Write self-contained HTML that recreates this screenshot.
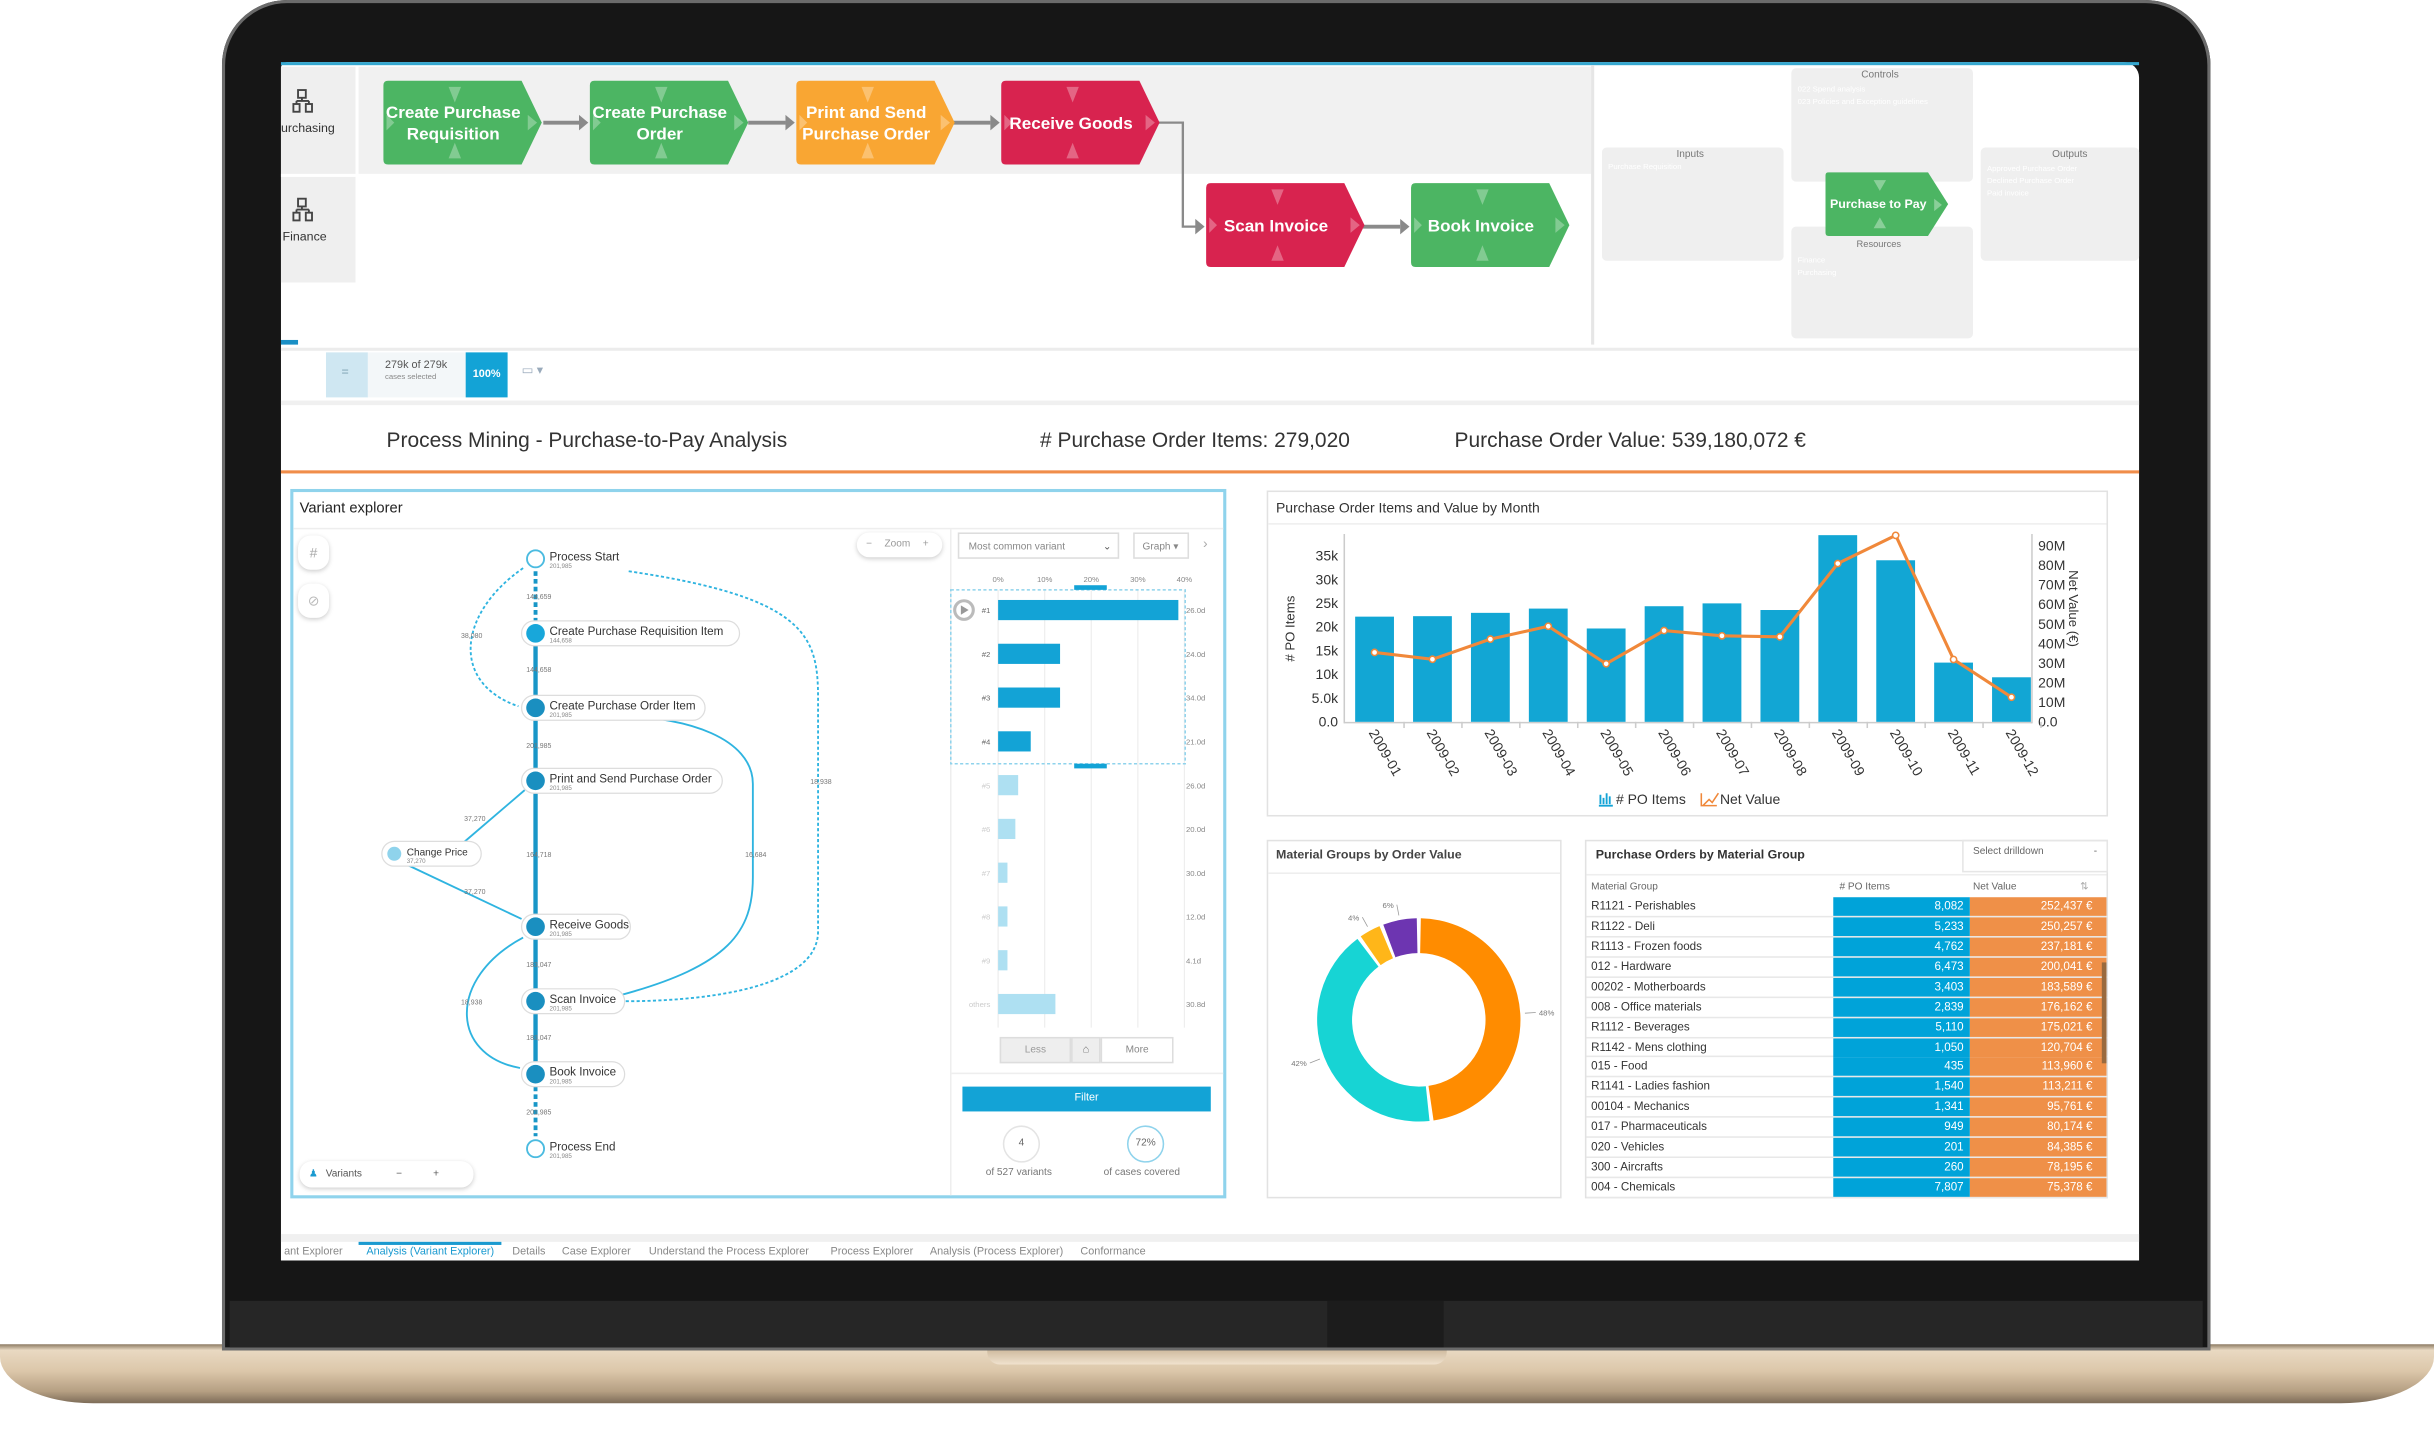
<!DOCTYPE html>
<html><head><meta charset="utf-8">
<style>
html,body{margin:0;padding:0;background:#fff;width:2434px;height:1429px;overflow:hidden;font-family:"Liberation Sans",sans-serif;}
#stage{position:absolute;left:0;top:0;width:1568px;height:921px;transform:scale(1.55230);transform-origin:0 0;}
.abs{position:absolute;}
.t{position:absolute;white-space:nowrap;color:#333;}
.panel{position:absolute;background:#fff;border:1px solid #e2e2e2;box-sizing:border-box;}
.ptitle{position:absolute;left:6px;top:6px;font-size:9px;color:#333;font-weight:bold;letter-spacing:0.2px;}
.row{position:absolute;left:0;width:336px;height:12.93px;font-size:7.5px;line-height:12.93px;border-bottom:1px solid #e8e8e8;box-sizing:border-box;}
.gbox{position:absolute;background:#efefef;border-radius:3px;}
.tab{position:absolute;top:803px;font-size:7px;color:#888;white-space:nowrap;}
</style></head>
<body>
<div id="stage">
  <!-- base -->
  <div class="abs" style="left:0;top:866px;width:1568px;height:38px;background:linear-gradient(#8c7a63 0,#e9d9c2 10%,#dcc7aa 45%,#b59f82 80%,#7d6c58 100%);border-radius:0 0 60px 60px / 0 0 30px 30px;"></div>
  <div class="abs" style="left:636px;top:869px;width:296px;height:10px;background:linear-gradient(#cdb89c,#f0e2ce);border-radius:0 0 8px 8px;"></div>
  <!-- bezel -->
  <div class="abs" style="left:143px;top:0;width:1281px;height:870px;background:#161616;border-radius:42px 42px 0 0;box-shadow:inset 0 0 0 2px #6b6b6b;"></div>
  <div class="abs" style="left:148px;top:838px;width:1271px;height:30px;background:#262626;"></div>
  <div class="abs" style="left:855px;top:838px;width:75px;height:30px;background:#1c1c1c;"></div>
  <!-- screen -->
  <div class="abs" style="left:181px;top:40px;width:1197px;height:772px;background:#fff;overflow:hidden;border-radius:4px 10px 0 0;">
  </div>
  <div class="abs" style="left:181px;top:40px;width:1197px;height:2px;background:#35a7cf;"></div>

  <!-- process lanes -->
  <div class="abs" style="left:181px;top:43px;width:48px;height:139px;background:#efefef;"></div>
  <div class="abs" style="left:181px;top:112px;width:48px;height:2px;background:#fff;"></div>
  <div class="abs" style="left:231px;top:43px;width:794px;height:69px;background:#f1f1f1;"></div>
  <div class="abs" style="left:1025px;top:42px;width:2px;height:180px;background:#e6e6e6;"></div>
  <div class="t" style="left:181px;top:78px;font-size:8px;">urchasing</div>
  <div class="t" style="left:182px;top:148px;font-size:8px;">Finance</div>
  <svg class="abs" style="left:0;top:0" width="1568" height="921">
    <g fill="none" stroke="#444" stroke-width="1.2">
      <rect x="192" y="58" width="5" height="5"/><rect x="189" y="67" width="4" height="5"/><rect x="197" y="67" width="4" height="5"/><path d="M194.5 63v2M191 65h8M191 65v2M199 65v2"/>
      <rect x="192" y="128" width="5" height="5"/><rect x="189" y="137" width="4" height="5"/><rect x="197" y="137" width="4" height="5"/><path d="M194.5 133v2M191 135h8M191 135v2M199 135v2"/>
    </g>
    <g stroke="#8a8a8a" stroke-width="2.5" fill="#8a8a8a">
      <path d="M350 79H373"/><path d="M373 74l6 5-6 5z" stroke="none"/>
      <path d="M482 79H506"/><path d="M506 74l6 5-6 5z" stroke="none"/>
      <path d="M614 79H638"/><path d="M638 74l6 5-6 5z" stroke="none"/>
      <path d="M746 79H762V146H771" fill="none" stroke-width="1.5"/><path d="M770 141l6 5-6 5z" stroke="none"/>
      <path d="M878 146H902"/><path d="M902 141l6 5-6 5z" stroke="none"/>
    </g>
    <g id="boxes"></g>
  </svg>
  <!-- right side of top area -->
  <div class="gbox" style="left:1154px;top:44px;width:117px;height:73px;"></div>
  <div class="gbox" style="left:1032px;top:95px;width:117px;height:73px;"></div>
  <div class="gbox" style="left:1154px;top:146px;width:117px;height:72px;"></div>
  <div class="gbox" style="left:1276px;top:95px;width:102px;height:73px;"></div>
  <div class="t" style="left:1199px;top:45px;font-size:6.5px;color:#777;">Controls</div>
  <div class="t" style="left:1080px;top:96px;font-size:6.5px;color:#777;">Inputs</div>
  <div class="t" style="left:1322px;top:96px;font-size:6.5px;color:#777;">Outputs</div>
  <div class="t" style="left:1196px;top:155px;font-size:6px;color:#777;">Resources</div>
  <div class="t" style="left:1158px;top:54px;font-size:5px;color:#fff;line-height:8px;">022 Spend analysis<br>023 Policies and Exception guidelines</div>
  <div class="t" style="left:1036px;top:105px;font-size:5px;color:#fff;">Purchase Requisition</div>
  <div class="t" style="left:1280px;top:105px;font-size:5px;color:#fff;line-height:8px;">Approved Purchase Order<br>Declined Purchase Order<br>Paid invoice</div>
  <div class="t" style="left:1158px;top:164px;font-size:5px;color:#fff;line-height:8px;">Finance<br>Purchasing</div>
  <svg class="abs" style="left:1176px;top:111px" width="80" height="41">
    <path d="M2 0H66L79 20.5L66 41H2Q0 41 0 39V2Q0 0 2 0Z" fill="#4cb563"/>
    <path d="M31 5h8l-4 7z M31 36h8l-4-7z M70 17v8l5-4z" fill="#fff" opacity="0.35"/>
    <text x="34" y="23" fill="#fff" font-size="8" font-weight="bold" text-anchor="middle" font-family="Liberation Sans,sans-serif">Purchase to Pay</text>
  </svg>

  <!-- toolbar -->
  <div class="abs" style="left:181px;top:224px;width:1197px;height:2px;background:#ececec;"></div>
  <div class="abs" style="left:181px;top:219px;width:11px;height:3px;background:#1a8fc5;"></div>
  <div class="abs" style="left:210px;top:227px;width:27px;height:29px;background:#cfe7f2;"></div>
  <div class="t" style="left:220px;top:235px;font-size:8px;color:#7a9fb0;">=</div>
  <div class="abs" style="left:237px;top:227px;width:63px;height:29px;background:#f3f7f9;"></div>
  <div class="t" style="left:248px;top:232px;font-size:7px;color:#555;line-height:7px;">279k of 279k<br><span style="font-size:5px;color:#888">cases selected</span></div>
  <div class="abs" style="left:300px;top:227px;width:27px;height:29px;background:#13a3d6;color:#fff;font-size:7px;font-weight:bold;line-height:29px;text-align:center;">100%</div>
  <div class="t" style="left:336px;top:234px;font-size:8px;color:#9ab;">&#9645; &#9662;</div>
  <div class="abs" style="left:181px;top:258px;width:1197px;height:3px;background:#f0f0f0;"></div>

  <!-- KPI row -->
  <div class="t" style="left:249px;top:276px;font-size:13.5px;color:#333;">Process Mining - Purchase-to-Pay Analysis</div>
  <div class="t" style="left:670px;top:276px;font-size:13.5px;color:#333;"># Purchase Order Items: 279,020</div>
  <div class="t" style="left:937px;top:276px;font-size:13.5px;color:#333;">Purchase Order Value: 539,180,072 €</div>
  <div class="abs" style="left:181px;top:303px;width:1197px;height:2px;background:#f08d4a;"></div>

  <!-- Variant explorer -->
  <div class="panel" style="left:187px;top:315px;width:603px;height:457px;border:2px solid #8fd3ec;"></div>
  <div class="t" style="left:193px;top:322px;font-size:9.5px;color:#222;">Variant explorer</div>
  <div class="abs" style="left:189px;top:340px;width:599px;height:1px;background:#eee;"></div>
  <div class="abs" style="left:612px;top:341px;width:1px;height:429px;background:#eee;"></div>
  <div class="abs" style="left:192px;top:345px;width:20px;height:22px;border-radius:8px;background:#fff;box-shadow:0 1px 3px #ccc;color:#aaa;font-size:9px;text-align:center;line-height:22px;">#</div>
  <div class="abs" style="left:192px;top:376px;width:20px;height:22px;border-radius:8px;background:#fff;box-shadow:0 1px 3px #ccc;color:#bbb;font-size:9px;text-align:center;line-height:22px;">&#8856;</div>
  <div class="abs" style="left:552px;top:343px;width:55px;height:16px;border-radius:8px;background:#fff;box-shadow:0 1px 3px #ccc;font-size:6.5px;color:#999;line-height:16px;"><span style="margin-left:6px">&minus;</span><span style="margin-left:8px">Zoom</span><span style="margin-left:8px">+</span></div>
  <div class="abs" style="left:617px;top:343px;width:104px;height:17px;border:1px solid #ddd;font-size:6.5px;color:#888;line-height:17px;box-sizing:border-box;padding-left:6px;">Most common variant <span style="position:absolute;right:4px;color:#555">&#8964;</span></div>
  <div class="abs" style="left:730px;top:343px;width:36px;height:17px;border:1px solid #ddd;font-size:6.5px;color:#888;line-height:17px;box-sizing:border-box;padding-left:5px;">Graph &#9662;</div>
  <div class="t" style="left:775px;top:345px;font-size:9px;color:#aaa;">&#8250;</div>
  <svg class="abs" style="left:187px;top:315px" width="603" height="457" viewBox="187 315 603 457" font-family="Liberation Sans,sans-serif">
    <g fill="none" stroke="#2fb4e0" stroke-width="1.2">
      <path d="M337 366C295 395 290 440 334 455" stroke-dasharray="2,1.5"/>
      <path d="M405 368C520 385 527 410 527 450L527 600C527 635 460 645 402 645" stroke-dasharray="2,1.5"/>
      <path d="M400 641C470 622 485 600 485 565L485 505C485 475 440 462 405 462"/>
      <path d="M338 509L296 545"/>
      <path d="M262 557L336 592"/>
      <path d="M337 604C288 630 290 680 335 688"/>
    </g>
    <g stroke="#1896c7">
      <path d="M345 368V400" stroke-width="2.5" stroke-dasharray="3,2"/>
      <path d="M345 416V448M345 464V495M345 511V589M345 605V637M345 653V684" stroke-width="2.8"/>
      <path d="M345 700V732" stroke-width="2.5" stroke-dasharray="3,2"/>
    </g>
    <g id="vnodes"></g>
    <g font-size="4.5" fill="#777">
      <text x="339" y="386">144,659</text><text x="339" y="433">144,658</text><text x="339" y="482">201,985</text>
      <text x="339" y="552">164,718</text><text x="339" y="623">183,047</text><text x="339" y="670">183,047</text><text x="339" y="718">201,985</text>
      <text x="297" y="411">38,080</text><text x="522" y="505">18,938</text><text x="480" y="552">16,684</text>
      <text x="299" y="529">37,270</text><text x="299" y="576">37,270</text><text x="297" y="647">18,938</text>
    </g>
  </svg>
  <div class="abs" style="left:193px;top:748px;width:112px;height:17px;border-radius:8px;background:#fff;box-shadow:0 1px 3px #ccc;font-size:6.5px;color:#555;line-height:17px;"><span style="color:#1a9ad0;margin-left:6px">&#9823;</span><span style="margin-left:5px">Variants</span><span style="margin-left:22px">&minus;</span><span style="margin-left:20px">+</span></div>
  <svg class="abs" style="left:612px;top:362px" width="178" height="410" viewBox="612 362 178 410" font-family="Liberation Sans,sans-serif">
    <g id="vgrid"></g><g id="vbars"></g>
    <rect x="612.5" y="380" width="151" height="112" fill="none" stroke="#8fd3ec" stroke-dasharray="2,1.5"/>
    <rect x="692" y="377" width="21" height="3" fill="#13a3d6"/>
    <rect x="692" y="492" width="21" height="3" fill="#13a3d6"/>
    <circle cx="621" cy="393" r="6" fill="#fff" stroke="#bbb" stroke-width="2"/>
    <path d="M619 390v6l5-3z" fill="#999"/>
  </svg>
  <div class="abs" style="left:644px;top:668px;width:46px;height:17px;background:#eee;border:1px solid #ddd;box-sizing:border-box;font-size:6.5px;color:#999;line-height:16px;text-align:center;">Less</div>
  <div class="abs" style="left:690px;top:668px;width:19px;height:17px;background:#eee;border:1px solid #ddd;box-sizing:border-box;font-size:7px;color:#777;line-height:16px;text-align:center;">&#8962;</div>
  <div class="abs" style="left:709px;top:668px;width:47px;height:17px;background:#fff;border:1px solid #ddd;box-sizing:border-box;font-size:6.5px;color:#888;line-height:16px;text-align:center;">More</div>
  <div class="abs" style="left:613px;top:691px;width:175px;height:1px;background:#eee;"></div>
  <div class="abs" style="left:620px;top:700px;width:160px;height:16px;background:#13a3d6;color:#fff;font-size:7px;line-height:16px;text-align:center;">Filter</div>
  <div class="abs" style="left:646px;top:725px;width:22px;height:22px;border:1.5px solid #e4e4e4;border-radius:50%;font-size:6.5px;color:#666;line-height:22px;text-align:center;">4</div>
  <div class="abs" style="left:726px;top:725px;width:22px;height:22px;border:1.5px solid #8fd3ec;border-radius:50%;font-size:6.5px;color:#666;line-height:22px;text-align:center;">72%</div>
  <div class="t" style="left:635px;top:752px;font-size:6.5px;color:#777;">of 527 variants</div>
  <div class="t" style="left:711px;top:752px;font-size:6.5px;color:#777;">of cases covered</div>

  <!-- Monthly chart -->
  <div class="panel" style="left:816px;top:316px;width:542px;height:210px;"></div>
  <div class="t" style="left:822px;top:322px;font-size:9px;color:#333;">Purchase Order Items and Value by Month</div>
  <div class="abs" style="left:817px;top:337px;width:540px;height:1px;background:#eee;"></div>
  <svg class="abs" style="left:816px;top:316px" width="542" height="210" viewBox="816 316 542 210" font-family="Liberation Sans,sans-serif">
    <g id="axes"></g><g id="bars"></g><g id="line"></g><g id="xlabels"></g>
    <text transform="translate(834 405) rotate(-90)" font-size="8.5" fill="#333" text-anchor="middle"># PO Items</text>
    <text transform="translate(1333 392) rotate(90)" font-size="8.5" fill="#333" text-anchor="middle">Net Value (€)</text>
    <g>
      <g><path d="M1031 518v-6M1033 518v-4M1035 518v-7M1037 518v-5M1030 519h9" stroke="#13a3d6" stroke-width="1.2"/><text x="1041" y="518" font-size="9" fill="#333"># PO Items</text></g>
      <g><path d="M1097 519l4-4 2 2 4-6M1096 511v8h10" stroke="#f0883a" fill="none" stroke-width="1"/><text x="1108" y="518" font-size="9" fill="#333">Net Value</text></g>
    </g>
  </svg>

  <!-- Donut -->
  <div class="panel" style="left:816px;top:541px;width:190px;height:231px;"></div>
  <div class="t" style="left:822px;top:546px;font-size:8px;color:#444;font-weight:bold;">Material Groups by Order Value</div>
  <div class="abs" style="left:817px;top:562px;width:188px;height:1px;background:#eee;"></div>
  <svg class="abs" style="left:816px;top:541px" width="190" height="231" viewBox="816 541 190 231" font-family="Liberation Sans,sans-serif"><g id="donut"></g></svg>

  <!-- Table -->
  <div class="panel" style="left:1021px;top:541px;width:337px;height:231px;"></div>
  <div class="t" style="left:1028px;top:546px;font-size:8px;color:#333;font-weight:bold;">Purchase Orders by Material Group</div>
  <div class="abs" style="left:1264px;top:541px;width:94px;height:21px;border:1px solid #e6e6e6;box-sizing:border-box;font-size:6.5px;color:#666;padding:3px 0 0 6px;">Select drilldown<span style="position:absolute;right:6px">-</span></div>
  <div class="abs" style="left:1022px;top:563px;width:335px;height:15px;font-size:6.5px;color:#666;line-height:15px;border-top:1px solid #eee;">
    <span style="position:absolute;left:3px">Material Group</span>
    <span style="position:absolute;left:163px">#&nbsp;PO Items</span>
    <span style="position:absolute;left:249px">Net Value</span>
    <span style="position:absolute;left:318px;color:#aaa">&#8645;</span>
  </div>
  <div class="abs" id="tbody" style="left:1022px;top:578px;width:336px;height:194px;"></div>
  <div class="abs" style="left:1354px;top:620px;width:3px;height:65px;background:#9a6a3e;"></div>

  <!-- Tabs -->
  <div class="abs" style="left:181px;top:795px;width:1197px;height:5px;background:#f0f0f0;"></div>
  <div class="abs" style="left:231px;top:800px;width:92px;height:2px;background:#1a9ad0;"></div>
  <div class="tab" style="left:183px;">ant Explorer</div>
  <div class="tab" style="left:236px;color:#1a9ad0;">Analysis (Variant Explorer)</div>
  <div class="tab" style="left:330px;">Details</div>
  <div class="tab" style="left:362px;">Case Explorer</div>
  <div class="tab" style="left:418px;">Understand the Process Explorer</div>
  <div class="tab" style="left:535px;">Process Explorer</div>
  <div class="tab" style="left:599px;">Analysis (Process Explorer)</div>
  <div class="tab" style="left:696px;">Conformance</div>
</div>

<script>
var SVGNS = "http://www.w3.org/2000/svg";
// ===== Monthly chart data =====
var months = ["2009-01","2009-02","2009-03","2009-04","2009-05","2009-06","2009-07","2009-08","2009-09","2009-10","2009-11","2009-12"];
var poItems = [22200,22300,23000,23900,19700,24400,25000,23600,39400,34100,12500,9400];
var netValueM = [35.5,32.0,42.3,48.9,29.7,46.7,44.0,43.5,81.0,95.4,31.9,12.6];
var leftTicks = [0,5000,10000,15000,20000,25000,30000,35000];
var leftTickLabels = ["0.0","5.0k","10k","15k","20k","25k","30k","35k"];
var rightTicks = [0,10,20,30,40,50,60,70,80,90];
var rightTickLabels = ["0.0","10M","20M","30M","40M","50M","60M","70M","80M","90M"];
// ===== Variant chart data =====
var variantLabels = ["#1","#2","#3","#4","#5","#6","#7","#8","#9","others"];
var variantPct = [38.7,13.3,13.3,7.0,4.3,3.7,2.0,2.0,2.0,12.3];
var variantDur = ["26.0d","24.0d","34.0d","21.0d","26.0d","20.0d","30.0d","12.0d","4.1d","30.8d"];
var variantTicks = [0,10,20,30,40];
// ===== Donut data =====
var donutLabels = ["48%","42%","4%","6%"];
var donutValues = [48,42,4,6];
var donutColors = ["#ff8c00","#17d4d4","#ffb619","#6d35b1"];
// ===== Table data =====
var tableGroups = ["R1121 - Perishables","R1122 - Deli","R1113 - Frozen foods","012 - Hardware","00202 - Motherboards","008 - Office materials","R1112 - Beverages","R1142 - Mens clothing","015 - Food","R1141 - Ladies fashion","00104 - Mechanics","017 - Pharmaceuticals","020 - Vehicles","300 - Aircrafts","004 - Chemicals"];
var tableItems = ["8,082","5,233","4,762","6,473","3,403","2,839","5,110","1,050","435","1,540","1,341","949","201","260","7,807"];
var tableValues = ["252,437 €","250,257 €","237,181 €","200,041 €","183,589 €","176,162 €","175,021 €","120,704 €","113,960 €","113,211 €","95,761 €","80,174 €","84,385 €","78,195 €","75,378 €"];

function el(tag, attrs, parent){var e=document.createElementNS(SVGNS,tag);for(var k in attrs)e.setAttribute(k,attrs[k]);if(parent)parent.appendChild(e);return e;}

// ---- process boxes ----
var boxDefs = [
 {x:247,y:52,c:"#4cb563",t:["Create Purchase","Requisition"],n:"step-create-purchase-requisition"},
 {x:380,y:52,c:"#4cb563",t:["Create Purchase","Order"],n:"step-create-purchase-order"},
 {x:513,y:52,c:"#f9a633",t:["Print and Send","Purchase Order"],n:"step-print-send-purchase-order"},
 {x:645,y:52,c:"#d8234f",t:["Receive Goods"],n:"step-receive-goods"},
 {x:777,y:118,c:"#d8234f",t:["Scan Invoice"],n:"step-scan-invoice"},
 {x:909,y:118,c:"#4cb563",t:["Book Invoice"],n:"step-book-invoice"}];
var bg=document.getElementById("boxes");
boxDefs.forEach(function(b){
  var g=el("g",{transform:"translate("+b.x+" "+b.y+")"},bg);
  
  
  el("path",{d:"M3 0H89L102 27L89 54H3Q0 54 0 51V3Q0 0 3 0Z",fill:b.c},g);
  el("path",{d:"M42 4h8l-4 10z M42 50h8l-4-10z M93 22v10l6-5z M2 22v10l5-5z",fill:"#fff",opacity:"0.3"},g);
  b.t.forEach(function(s,i){
    var tx=el("text",{x:45,y:(b.t.length==1?31:24+i*14),fill:"#fff","font-size":"11","font-weight":"bold","text-anchor":"middle","font-family":"Liberation Sans,sans-serif"},g);
    tx.textContent=s;
  });
});

// ---- variant nodes ----
var nodeDefs=[["Process Start",360,"201,985"],["Create Purchase Requisition Item",408,"144,658"],["Create Purchase Order Item",456,"201,985"],["Print and Send Purchase Order",503,"201,985"],["Receive Goods",597,"201,985"],["Scan Invoice",645,"201,985"],["Book Invoice",692,"201,985"],["Process End",740,"201,985"]];
var vn=document.getElementById("vnodes");
nodeDefs.forEach(function(n,i){
  var g=el("g",{},vn);
  
  
  var w=n[0].length*3.7+22;
  if(i>0&&i<7) el("rect",{x:336,y:n[1]-8,width:w,height:16,rx:8,fill:"#fff",stroke:"#ddd","stroke-width":0.8},g);
  var endpoint=(i==0||i==7);
  el("circle",{cx:345,cy:n[1],r:endpoint?5.5:6,fill:endpoint?"#fff":(i==1?"#18a7da":"#1a8fc0"),stroke:endpoint?"#4bbbe0":"none","stroke-width":1.2},g);
  var t=el("text",{x:354,y:n[1]+1,"font-size":"7.5",fill:"#333"},g);t.textContent=n[0];
  var t2=el("text",{x:354,y:n[1]+6,"font-size":"4",fill:"#888"},g);t2.textContent=n[2];
});
(function(){
  var g=el("g",{},vn);
  
  
  el("rect",{x:246,y:542,width:64,height:16,rx:8,fill:"#fff",stroke:"#ddd","stroke-width":0.8},g);
  el("circle",{cx:254,cy:550,r:4.5,fill:"#8fd3ec"},g);
  var t=el("text",{x:262,y:551,"font-size":"6.5",fill:"#333"},g);t.textContent="Change Price";
  var t2=el("text",{x:262,y:556,"font-size":"4",fill:"#888"},g);t2.textContent="37,270";
})();

// ---- variant bar chart ----
function vx(p){return 643+p*3;}
function vy(i){return 393+i*28.2;}
var vgrid=document.getElementById("vgrid");
variantTicks.forEach(function(t){
  el("line",{x1:vx(t),x2:vx(t),y1:380,y2:662,stroke:"#eee","stroke-width":0.8},vgrid);
  var tx=el("text",{x:vx(t),y:375,"font-size":"5","text-anchor":"middle",fill:"#888"},vgrid);tx.textContent=t+"%";
});
var vb=document.getElementById("vbars");
variantPct.forEach(function(p,i){
  var r=el("rect",{x:vx(0),y:vy(i)-6.5,width:vx(p)-vx(0),height:13,fill:i<4?"#13a3d6":"#aee0f2"},vb);
  
  
  var l=el("text",{x:638,y:vy(i)+2,"font-size":"5","text-anchor":"end",fill:i<4?"#666":"#ccc"},vb);l.textContent=variantLabels[i];
  var d=el("text",{x:764,y:vy(i)+2,"font-size":"5",fill:"#888"},vb);d.textContent=variantDur[i];
});

// ---- monthly chart ----
function yL(v){return 465-v*3.052/1000;}
function yR(m){return 465-m*1.259;}
function xC(i){return 885.5+i*37.3;}
var ax=document.getElementById("axes");
el("line",{x1:866,x2:866,y1:344,y2:466,stroke:"#ccc"},ax);
el("line",{x1:1309,x2:1309,y1:344,y2:466,stroke:"#ccc"},ax);
el("line",{x1:866,x2:1309,y1:465.5,y2:465.5,stroke:"#ccc"},ax);
leftTicks.forEach(function(v,i){var t=el("text",{x:862,y:yL(v)+3,"font-size":"9","text-anchor":"end",fill:"#333"},ax);t.textContent=leftTickLabels[i];});
rightTicks.forEach(function(v,i){var t=el("text",{x:1313,y:yR(v)+3,"font-size":"9",fill:"#333"},ax);t.textContent=rightTickLabels[i];});
var bs=document.getElementById("bars");
poItems.forEach(function(v,i){
  var r=el("rect",{x:xC(i)-12.5,y:yL(v),width:25,height:465-yL(v),fill:"#12a6d4"},bs);
  
  
  el("line",{x1:xC(i)+19,x2:xC(i)+19,y1:465,y2:469,stroke:"#ccc"},bs);
});
var ln=document.getElementById("line");
var d="";netValueM.forEach(function(m,i){d+=(i?"L":"M")+xC(i)+" "+yR(m);});
var pl=el("path",{d:d,fill:"none",stroke:"#f0883a","stroke-width":2},ln);


netValueM.forEach(function(m,i){
  var c=el("circle",{cx:xC(i),cy:yR(m),r:2,fill:"#fff",stroke:"#f0883a","stroke-width":1},ln);
  
  
});
var xl=document.getElementById("xlabels");
months.forEach(function(m,i){
  var t=el("text",{transform:"translate("+(xC(i)-4)+" 472) rotate(60)","font-size":"9",fill:"#333"},xl);t.textContent=m;
});

// ---- donut ----
var dn=document.getElementById("donut");
var cx=914,cy=657,R=65.5,r0=43,tot=donutValues.reduce(function(a,b){return a+b;},0),acc=0;
function pt(a,rad){return [cx+rad*Math.sin(a),cy-rad*Math.cos(a)];}
donutValues.forEach(function(v,i){
  var a0=acc/tot*2*Math.PI+0.02, a1=(acc+v)/tot*2*Math.PI-0.02; acc+=v;
  var p1=pt(a0,R),p2=pt(a1,R),p3=pt(a1,r0),p4=pt(a0,r0),lg=(a1-a0)>Math.PI?1:0;
  var s=el("path",{d:"M"+p1+"A"+R+" "+R+" 0 "+lg+" 1 "+p2+"L"+p3+"A"+r0+" "+r0+" 0 "+lg+" 0 "+p4+"Z",fill:donutColors[i]},dn);
  
  
  var am=(a0+a1)/2, q=pt(am,R+3), q2=pt(am,R+10);
  el("line",{x1:q[0],y1:q[1],x2:q2[0],y2:q2[1],stroke:"#999","stroke-width":0.5},dn);
  var right=Math.sin(am)>=0;
  var lt=el("text",{x:q2[0]+(right?2:-2),y:q2[1]+2,"font-size":"5","text-anchor":right?"start":"end",fill:"#777"},dn);lt.textContent=donutLabels[i];
});

// ---- table ----
var tb=document.getElementById("tbody");
tableGroups.forEach(function(g,i){
  var row=document.createElement("div");
  row.className="row";row.style.top=(i*12.93)+"px";
  
  
  row.innerHTML='<span style="position:absolute;left:3px;color:#333">'+g+'</span>'+
   '<span style="position:absolute;left:159px;width:88px;height:12px;background:#00a3d9;color:#fff;text-align:right;box-sizing:border-box;padding-right:4px">'+tableItems[i]+'</span>'+
   '<span style="position:absolute;left:247px;width:88px;height:12px;background:#ef9048;color:#fff;text-align:right;box-sizing:border-box;padding-right:9px">'+tableValues[i]+'</span>';
  tb.appendChild(row);
});
</script>
</body></html>
